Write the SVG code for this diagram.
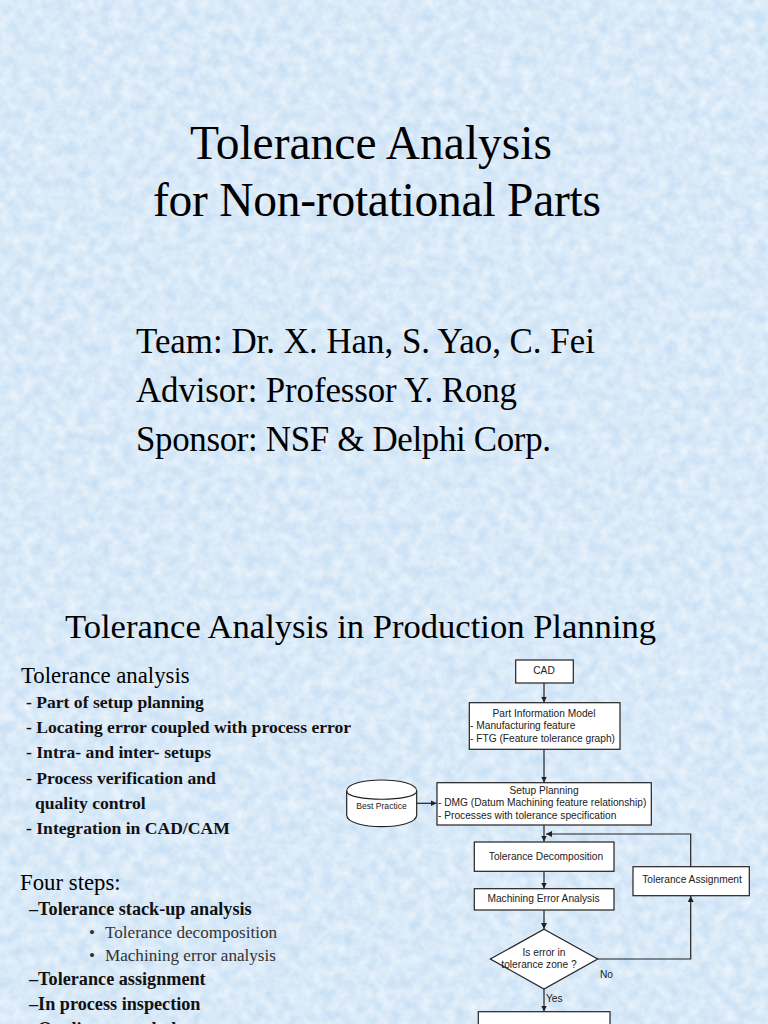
<svg xmlns="http://www.w3.org/2000/svg" width="768" height="1024" viewBox="0 0 768 1024">
<style>
.t{font-family:"Liberation Serif","Times New Roman",serif;fill:#000}
.h{font-size:47.5px}.s{font-size:34.9px}.a{font-size:34.6px}
.m{font-size:22.8px}.b{font-size:17.6px;font-weight:bold;fill:#111}.d{font-size:18.2px;font-weight:bold;fill:#111}.c{font-size:17.1px;fill:#333}
.f{font-family:"Liberation Sans",Arial,sans-serif;font-size:10.2px;fill:#222}
.n{fill:#fff;stroke:#222;stroke-width:1.2}
.l{fill:none;stroke:#222;stroke-width:1.2}
</style>
<defs>
<marker id="ah" markerWidth="8" markerHeight="8" refX="6" refY="3" orient="auto" markerUnits="userSpaceOnUse"><path d="M0 0L6 3L0 6z" fill="#222"/></marker>
<filter id="tex" x="0" y="0" width="100%" height="100%"><feTurbulence type="fractalNoise" baseFrequency="0.09" numOctaves="3" seed="7"/><feColorMatrix values="0 0 0 0 1 0 0 0 0 1 0 0 0 0 1 0.9 0 0 0 -0.15"/></filter>
</defs>
<rect id="background" width="768" height="1024" fill="#c8e0f5"/>
<rect id="texture" width="768" height="1024" filter="url(#tex)"/>
<g id="slide1-text" class="t">
<text class="h" x="371" y="158.500" text-anchor="middle">Tolerance Analysis</text>
<text class="h" x="377" y="216" text-anchor="middle" textLength="448">for Non-rotational Parts</text>
<text class="s" x="136" y="353">Team: Dr. X. Han, S. Yao, C. Fei</text>
<text class="s" x="136" y="402" textLength="381">Advisor: Professor Y. Rong</text>
<text class="s" x="136" y="451" textLength="415">Sponsor: NSF &amp; Delphi Corp.</text>
</g>
<g id="slide2-text" class="t">
<text class="a" x="65" y="638">Tolerance Analysis in Production Planning</text>
<text class="m" x="21" y="683">Tolerance analysis</text>
<text class="b" x="26" y="708">- Part of setup planning</text>
<text class="b" x="26" y="733">- Locating error coupled with process error</text>
<text class="b" x="26" y="758">- Intra- and inter- setups</text>
<text class="b" x="26" y="784">- Process verification and</text>
<text class="b" x="35" y="809">quality control</text>
<text class="b" x="26" y="834">- Integration in CAD/CAM</text>
<text class="m" x="20" y="890">Four steps:</text>
<text class="d" x="29" y="915">–Tolerance stack-up analysis</text>
<text class="c" x="89" y="938">•</text><text class="c" x="105" y="938">Tolerance decomposition</text>
<text class="c" x="89" y="961">•</text><text class="c" x="105" y="961">Machining error analysis</text>
<text class="d" x="29" y="985">–Tolerance assignment</text>
<text class="d" x="29" y="1010">–In process inspection</text>
<text class="d" x="29" y="1035">–Quality control plan</text>
</g>
<g id="connectors">
<path class="l" marker-end="url(#ah)" d="M544 683V702.500"/>
<path class="l" marker-end="url(#ah)" d="M544 749.500V782.500"/>
<path class="l" marker-end="url(#ah)" d="M416.700 803.300H436.500"/>
<path class="l" marker-end="url(#ah)" d="M544 825V841.500"/>
<path class="l" marker-end="url(#ah)" d="M690.700 866.700V834H546"/>
<path class="l" marker-end="url(#ah)" d="M544 871.500V888.500"/>
<path class="l" marker-end="url(#ah)" d="M544 910V929"/>
<path class="l" marker-end="url(#ah)" d="M597.700 959H690.700V896"/>
<path class="l" marker-end="url(#ah)" d="M544 989V1011.500"/>
</g>
<g id="node-cad"><rect class="n" x="515.700" y="660" width="57.600" height="23"/><text class="f" x="544" y="674" text-anchor="middle">CAD</text></g>
<g id="node-part-info"><rect class="n" x="469.300" y="702.700" width="150.700" height="46.600"/>
<text class="f" x="544" y="716.500" text-anchor="middle">Part Information Model</text>
<text class="f" x="470" y="729">- Manufacturing feature</text>
<text class="f" x="470" y="741.500">- FTG (Feature tolerance graph)</text></g>
<g id="node-best-practice"><path class="n" d="M346.700 791C346.700 776.300 416.700 776.300 416.700 791V815C416.700 830.500 346.700 830.500 346.700 815Z"/><path class="l" d="M346.700 791C346.700 802 416.700 802 416.700 791"/><text class="f" x="381.500" y="809" text-anchor="middle" style="font-size:8.6px">Best Practice</text></g>
<g id="node-setup"><rect class="n" x="437" y="782.700" width="214.300" height="42.300"/>
<text class="f" x="544" y="793.500" text-anchor="middle">Setup Planning</text>
<text class="f" x="438" y="806">- DMG (Datum Machining feature relationship)</text>
<text class="f" x="438" y="819">- Processes with tolerance specification</text></g>
<g id="node-decomp"><rect class="n" x="474.300" y="842" width="139.700" height="29.300"/><text class="f" x="546" y="859.500" text-anchor="middle">Tolerance Decomposition</text></g>
<g id="node-machining"><rect class="n" x="474.300" y="888.700" width="139.700" height="21.300"/><text class="f" x="543.500" y="901.500" text-anchor="middle">Machining Error Analysis</text></g>
<g id="node-assignment"><rect class="n" x="633" y="866.700" width="116.300" height="29"/><text class="f" x="692" y="883" text-anchor="middle">Tolerance Assignment</text></g>
<g id="node-decision"><path class="n" d="M544 929.300L597.700 959L544 989L490.300 959Z"/>
<text class="f" x="544" y="956" text-anchor="middle">Is error in</text>
<text class="f" x="539" y="968" text-anchor="middle">tolerance zone ?</text></g>
<g id="node-next"><rect class="n" x="478.300" y="1011.700" width="131.700" height="30"/></g>
<g id="connector-labels"><text class="f" x="600" y="978">No</text><text class="f" x="546" y="1002">Yes</text></g>
</svg>
